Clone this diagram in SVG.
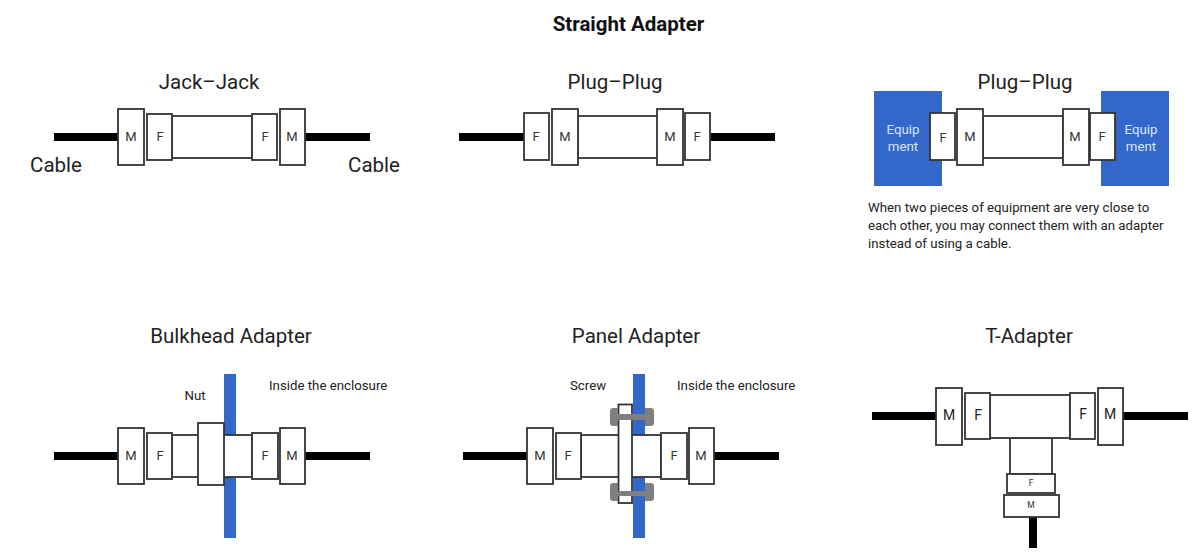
<svg xmlns="http://www.w3.org/2000/svg" width="1200" height="553" viewBox="0 0 1200 553">
<style>
text{font-family:Roboto,"Liberation Sans",sans-serif;fill:#222}
.b{fill:#fff;stroke:#333;stroke-width:1.8}
.c{fill:#000}
.w{fill:#3367c9}
.g{fill:#7f7f7f}
.h{font-size:20.500px;text-anchor:middle}
.l{font-size:13.250px}
.m{font-size:13px;text-anchor:middle;fill:#333}
.n{font-size:14px;text-anchor:middle;fill:#222}
.s{font-size:8.500px;text-anchor:middle;fill:#333}
.e{font-size:13.250px;text-anchor:middle;fill:#dbe6f8}
.t{font-size:20.500px;font-weight:700;text-anchor:middle;fill:#111}
</style>
<rect width="1200" height="553" fill="#fff"/>
<text class="t" x="628.500" y="31">Straight Adapter</text>
<g id="connectors">
<rect class="c" x="54" y="133" width="64" height="8"/><rect class="c" x="305" y="133" width="65" height="8"/>
<rect class="c" x="459" y="133" width="65" height="8"/><rect class="c" x="710" y="133" width="65" height="8"/>
<rect class="c" x="54" y="452" width="64" height="8"/><rect class="c" x="305" y="452" width="65" height="8"/>
<rect class="c" x="463" y="452" width="64" height="8"/><rect class="c" x="714" y="452" width="65" height="8"/>
<rect class="c" x="872" y="412" width="64" height="8"/><rect class="c" x="1123" y="412" width="65" height="8"/>
<rect class="c" x="1029" y="517" width="8" height="31"/>
</g>
<g id="jack-jack">
<text class="h" x="209" y="89">Jack–Jack</text>
<text class="h" x="56" y="172">Cable</text>
<text class="h" x="374" y="172">Cable</text>
<rect class="b" x="172" y="116" width="80" height="42"/>
<rect class="b" x="118" y="109" width="26" height="56"/><rect class="b" x="147" y="114" width="25" height="46"/>
<rect class="b" x="252" y="114" width="25" height="46"/><rect class="b" x="280" y="109" width="25" height="56"/>
<text class="m" x="131" y="141">M</text><text class="m" x="160" y="141">F</text><text class="m" x="265" y="141">F</text><text class="m" x="292" y="141">M</text>
</g>
<g id="plug-plug">
<text class="h" x="615" y="89">Plug–Plug</text>
<rect class="b" x="578" y="116" width="80" height="42"/>
<rect class="b" x="524" y="113" width="25" height="47"/><rect class="b" x="552" y="109" width="26" height="56"/>
<rect class="b" x="657" y="109" width="26" height="56"/><rect class="b" x="685" y="113" width="25" height="47"/>
<text class="m" x="536" y="141">F</text><text class="m" x="565" y="141">M</text><text class="m" x="670" y="141">M</text><text class="m" x="697" y="141">F</text>
</g>
<g id="plug-plug-equipment">
<text class="h" x="1025" y="89">Plug–Plug</text>
<rect class="w" x="874" y="91" width="68" height="95"/><rect class="w" x="1101" y="91" width="68" height="95"/>
<text class="e" x="903" y="134">Equip</text><text class="e" x="903" y="151">ment</text>
<text class="e" x="1141" y="134">Equip</text><text class="e" x="1141" y="151">ment</text>
<rect class="b" x="983" y="116" width="80" height="42"/>
<rect class="b" x="930" y="113" width="25" height="47"/><rect class="b" x="957" y="109" width="26" height="56"/>
<rect class="b" x="1063" y="109" width="26" height="56"/><rect class="b" x="1090" y="113" width="25" height="47"/>
<text class="m" x="943" y="142">F</text><text class="m" x="970" y="141">M</text><text class="m" x="1075" y="141">M</text><text class="m" x="1102" y="141">F</text>
<text class="l" x="868" y="212">When two pieces of equipment are very close to</text>
<text class="l" x="868" y="230">each other, you may connect them with an adapter</text>
<text class="l" x="868" y="248">instead of using a cable.</text>
</g>
<g id="bulkhead-adapter">
<text class="h" x="231" y="343">Bulkhead Adapter</text>
<text class="l" x="184.500" y="400">Nut</text>
<text class="l" x="269" y="390">Inside the enclosure</text>
<rect class="w" x="224" y="374" width="12" height="164"/>
<rect class="b" x="172" y="435" width="80" height="42"/>
<rect class="b" x="198" y="423" width="26" height="62"/>
<rect class="b" x="118" y="428" width="26" height="56"/><rect class="b" x="147" y="433" width="25" height="46"/>
<rect class="b" x="252" y="433" width="26" height="46"/><rect class="b" x="280" y="428" width="25" height="56"/>
<text class="m" x="131" y="460">M</text><text class="m" x="160" y="460">F</text><text class="m" x="265" y="460">F</text><text class="m" x="292" y="460">M</text>
</g>
<g id="panel-adapter">
<text class="h" x="636" y="343">Panel Adapter</text>
<text class="l" x="570" y="390">Screw</text>
<text class="l" x="677" y="390">Inside the enclosure</text>
<rect class="w" x="633" y="374" width="12" height="164"/>
<rect class="b" x="581" y="435" width="80" height="42"/>
<rect class="b" x="618.500" y="404.500" width="13.500" height="98.500"/>
<path class="g" d="M613 408h5v6h27v-6h6q3 0 3 3v12q0 3-3 3h-6v-6h-27v6h-5q-3 0-3-3v-12q0-3 3-3z"/>
<path class="g" d="M613 483h5v8h27v-8h6q3 0 3 3v12q0 3-3 3h-6v-5h-27v5h-5q-3 0-3-3v-12q0-3 3-3z"/>
<rect class="b" x="527" y="428" width="26" height="56"/><rect class="b" x="556" y="433" width="25" height="46"/>
<rect class="b" x="661" y="433" width="26" height="46"/><rect class="b" x="689" y="428" width="25" height="56"/>
<text class="m" x="540" y="460">M</text><text class="m" x="568" y="460">F</text><text class="m" x="674" y="460">F</text><text class="m" x="701" y="460">M</text>
</g>
<g id="t-adapter">
<text class="h" x="1029" y="343">T-Adapter</text>
<rect class="b" x="1010" y="438" width="42" height="36"/>
<rect class="b" x="990" y="395" width="80" height="43"/>
<rect class="b" x="936" y="388" width="26" height="57"/><rect class="b" x="965" y="393" width="25" height="46"/>
<rect class="b" x="1070" y="393" width="25" height="46"/><rect class="b" x="1098" y="388" width="25" height="57"/>
<rect class="b" x="1007" y="474" width="48" height="19"/><rect class="b" x="1004" y="495" width="55" height="22"/>
<text class="n" x="949" y="420">M</text><text class="n" x="978" y="420">F</text><text class="n" x="1083" y="419">F</text><text class="n" x="1110" y="419">M</text>
<text class="s" x="1031" y="486">F</text><text class="s" x="1031" y="508">M</text>
</g>
</svg>
